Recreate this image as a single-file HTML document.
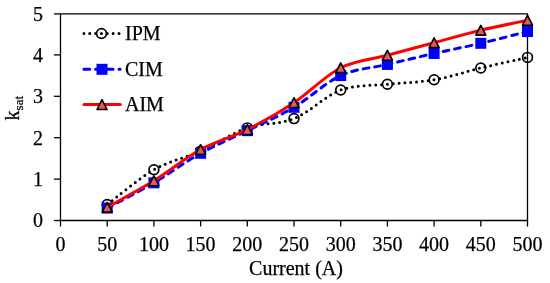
<!DOCTYPE html><html><head><meta charset="utf-8"><style>
html,body{margin:0;padding:0;background:#fff;}body{width:550px;height:283px;overflow:hidden;}
svg{display:block;} text{font-family:'Liberation Serif','Times New Roman',serif;font-size:20px;fill:#000;stroke:#000;stroke-width:0.25px;}
</style></head><body>
<svg width="550" height="283" viewBox="0 0 550 283">
<g stroke="#000" stroke-width="1.3" fill="none">
<path d="M60.5,13.9 H527.5 V220.5 H60.5 Z"/>
<path d="M53.9,220.5 H60.5"/>
<path d="M53.9,179.1 H60.5"/>
<path d="M53.9,137.7 H60.5"/>
<path d="M53.9,96.30000000000001 H60.5"/>
<path d="M53.9,54.900000000000006 H60.5"/>
<path d="M53.9,13.9 H60.5"/>
<path d="M60.50,220.5 V226.5"/>
<path d="M107.20,220.5 V226.5"/>
<path d="M153.90,220.5 V226.5"/>
<path d="M200.60,220.5 V226.5"/>
<path d="M247.30,220.5 V226.5"/>
<path d="M294.00,220.5 V226.5"/>
<path d="M340.70,220.5 V226.5"/>
<path d="M387.40,220.5 V226.5"/>
<path d="M434.10,220.5 V226.5"/>
<path d="M480.80,220.5 V226.5"/>
<path d="M527.50,220.5 V226.5"/>
</g>
<text x="43.0" y="227.4" text-anchor="end">0</text>
<text x="43.0" y="186.0" text-anchor="end">1</text>
<text x="43.0" y="144.6" text-anchor="end">2</text>
<text x="43.0" y="103.2" text-anchor="end">3</text>
<text x="43.0" y="61.8" text-anchor="end">4</text>
<text x="43.0" y="20.8" text-anchor="end">5</text>
<text x="60.5" y="250.5" text-anchor="middle">0</text>
<text x="107.2" y="250.5" text-anchor="middle">50</text>
<text x="153.9" y="250.5" text-anchor="middle">100</text>
<text x="200.6" y="250.5" text-anchor="middle">150</text>
<text x="247.3" y="250.5" text-anchor="middle">200</text>
<text x="294.0" y="250.5" text-anchor="middle">250</text>
<text x="340.7" y="250.5" text-anchor="middle">300</text>
<text x="387.4" y="250.5" text-anchor="middle">350</text>
<text x="434.1" y="250.5" text-anchor="middle">400</text>
<text x="480.8" y="250.5" text-anchor="middle">450</text>
<text x="527.5" y="250.5" text-anchor="middle">500</text>
<text x="296" y="274.5" text-anchor="middle">Current (A)</text>
<text transform="translate(18.8,108.2) rotate(-90)" text-anchor="middle">k<tspan font-size="13" dy="4.6">sat</tspan></text>
<path d="M107.20,204.52 C114.98,198.72 138.33,178.64 153.90,169.74 C169.47,160.85 185.03,158.13 200.60,151.16 C216.17,144.18 231.73,133.31 247.30,127.89 C262.87,122.46 278.43,124.93 294.00,118.61 C309.57,112.30 325.13,95.73 340.70,90.01 C356.27,84.29 371.83,86.01 387.40,84.29 C402.97,82.58 418.53,82.45 434.10,79.74 C449.67,77.03 465.23,71.75 480.80,68.02 C496.37,64.30 519.72,59.16 527.50,57.38" fill="none" stroke="#000" stroke-width="3" stroke-linecap="round" stroke-dasharray="0 5.85" stroke-dashoffset="-0.6"/>
<circle cx="107.20" cy="204.52" r="4.9" fill="none" stroke="#000" stroke-width="1.7"/>
<circle cx="153.90" cy="169.74" r="4.9" fill="none" stroke="#000" stroke-width="1.7"/>
<circle cx="200.60" cy="151.16" r="4.9" fill="none" stroke="#000" stroke-width="1.7"/>
<circle cx="247.30" cy="127.89" r="4.9" fill="none" stroke="#000" stroke-width="1.7"/>
<circle cx="294.00" cy="118.61" r="4.9" fill="none" stroke="#000" stroke-width="1.7"/>
<circle cx="340.70" cy="90.01" r="4.9" fill="none" stroke="#000" stroke-width="1.7"/>
<circle cx="387.40" cy="84.29" r="4.9" fill="none" stroke="#000" stroke-width="1.7"/>
<circle cx="434.10" cy="79.74" r="4.9" fill="none" stroke="#000" stroke-width="1.7"/>
<circle cx="480.80" cy="68.02" r="4.9" fill="none" stroke="#000" stroke-width="1.7"/>
<circle cx="527.50" cy="57.38" r="4.9" fill="none" stroke="#000" stroke-width="1.7"/>
<path d="M107.20,208.08 C114.98,203.87 138.33,191.95 153.90,182.83 C169.47,173.70 185.03,162.00 200.60,153.31 C216.17,144.61 231.73,138.33 247.30,130.66 C262.87,123.00 278.43,116.49 294.00,107.31 C309.57,98.14 325.13,82.75 340.70,75.60 C356.27,68.45 371.83,68.11 387.40,64.42 C402.97,60.73 418.53,56.97 434.10,53.45 C449.67,49.93 465.23,46.96 480.80,43.31 C496.37,39.65 519.72,33.48 527.50,31.51" fill="none" stroke="#0000ff" stroke-width="3" stroke-linecap="round" stroke-dasharray="5.8 5.9"/>
<rect x="101.70" y="202.58" width="11" height="11" fill="#0000ff"/>
<rect x="148.40" y="177.33" width="11" height="11" fill="#0000ff"/>
<rect x="195.10" y="147.81" width="11" height="11" fill="#0000ff"/>
<rect x="241.80" y="125.16" width="11" height="11" fill="#0000ff"/>
<rect x="288.50" y="101.81" width="11" height="11" fill="#0000ff"/>
<rect x="335.20" y="70.10" width="11" height="11" fill="#0000ff"/>
<rect x="381.90" y="58.92" width="11" height="11" fill="#0000ff"/>
<rect x="428.60" y="47.95" width="11" height="11" fill="#0000ff"/>
<rect x="475.30" y="37.81" width="11" height="11" fill="#0000ff"/>
<rect x="522.00" y="26.01" width="11" height="11" fill="#0000ff"/>
<path d="M107.20,207.25 C114.98,202.84 138.33,190.42 153.90,180.80 C169.47,171.17 185.03,158.03 200.60,149.50 C216.17,140.96 231.73,137.40 247.30,129.59 C262.87,121.77 278.43,112.94 294.00,102.63 C309.57,92.33 325.13,75.62 340.70,67.73 C356.27,59.85 371.83,59.49 387.40,55.31 C402.97,51.14 418.53,46.88 434.10,42.69 C449.67,38.50 465.23,33.91 480.80,30.18 C496.37,26.46 519.72,21.97 527.50,20.33" fill="none" stroke="#ff0000" stroke-width="3" stroke-linejoin="round"/>
<path d="M107.20,202.35 L112.20,212.15 L102.20,212.15 Z" fill="#e8565a" stroke="#000" stroke-width="1.6" stroke-linejoin="round"/>
<path d="M153.90,175.90 L158.90,185.70 L148.90,185.70 Z" fill="#e8565a" stroke="#000" stroke-width="1.6" stroke-linejoin="round"/>
<path d="M200.60,144.60 L205.60,154.40 L195.60,154.40 Z" fill="#e8565a" stroke="#000" stroke-width="1.6" stroke-linejoin="round"/>
<path d="M247.30,124.69 L252.30,134.49 L242.30,134.49 Z" fill="#e8565a" stroke="#000" stroke-width="1.6" stroke-linejoin="round"/>
<path d="M294.00,97.73 L299.00,107.53 L289.00,107.53 Z" fill="#e8565a" stroke="#000" stroke-width="1.6" stroke-linejoin="round"/>
<path d="M340.70,62.83 L345.70,72.63 L335.70,72.63 Z" fill="#e8565a" stroke="#000" stroke-width="1.6" stroke-linejoin="round"/>
<path d="M387.40,50.41 L392.40,60.21 L382.40,60.21 Z" fill="#e8565a" stroke="#000" stroke-width="1.6" stroke-linejoin="round"/>
<path d="M434.10,37.79 L439.10,47.59 L429.10,47.59 Z" fill="#e8565a" stroke="#000" stroke-width="1.6" stroke-linejoin="round"/>
<path d="M480.80,25.28 L485.80,35.08 L475.80,35.08 Z" fill="#e8565a" stroke="#000" stroke-width="1.6" stroke-linejoin="round"/>
<path d="M527.50,15.43 L532.50,25.23 L522.50,25.23 Z" fill="#e8565a" stroke="#000" stroke-width="1.6" stroke-linejoin="round"/>
<path d="M83.9,33.5 H119.1" fill="none" stroke="#000" stroke-width="3" stroke-linecap="round" stroke-dasharray="0 5.85"/>
<circle cx="101.5" cy="33.5" r="4.9" fill="none" stroke="#000" stroke-width="1.7"/>
<path d="M83.9,69.3 H120.1" fill="none" stroke="#0000ff" stroke-width="3" stroke-linecap="round" stroke-dasharray="5.8 5.9"/>
<rect x="96.5" y="63.8" width="11" height="11" fill="#0000ff"/>
<path d="M84,104.6 H120.3" fill="none" stroke="#ff0000" stroke-width="3" stroke-linecap="round"/>
<path d="M102.00,99.70 L107.00,109.50 L97.00,109.50 Z" fill="#e8565a" stroke="#000" stroke-width="1.6" stroke-linejoin="round"/>
<text x="125" y="40.0">IPM</text>
<text x="125" y="75.8">CIM</text>
<text x="125" y="111.1">AIM</text>
</svg></body></html>
